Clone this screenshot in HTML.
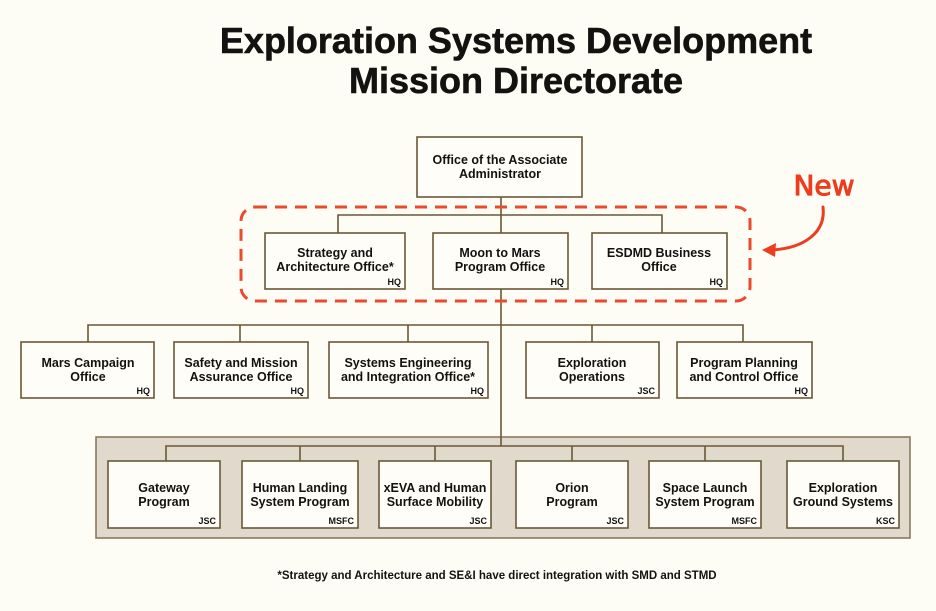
<!DOCTYPE html>
<html><head><meta charset="utf-8"><style>
html,body{margin:0;padding:0;background:#fdfcf5;}
svg{display:block;}
text{font-family:"Liberation Sans",Arial,sans-serif;font-weight:bold;fill:#141210;}
.b{fill:#fefdf8;stroke:#6b5838;stroke-width:1.6;}
.l{stroke:#6b5838;stroke-width:1.6;fill:none;}
.t{font-size:12.5px;text-anchor:middle;}
.s{font-size:9px;text-anchor:end;}
</style></head><body>
<svg width="936" height="611" viewBox="0 0 936 611">
<rect width="936" height="611" fill="#fdfcf5"/>
<text x="516" y="53" font-size="36" text-anchor="middle" stroke="#141210" stroke-width="0.6">Exploration Systems Development</text>
<text x="516" y="93" font-size="36" text-anchor="middle" stroke="#141210" stroke-width="0.6">Mission Directorate</text>

<rect x="96" y="437" width="814" height="101" fill="#e1d9cb" stroke="#8a7a5c" stroke-width="1.6"/>

<path class="l" d="M501 197V446M338 233V215H662V233M88 342V325H743V342M240 325V342M408 325V342M592 325V342M166 461V446H843V461M300 446V461M435 446V461M572 446V461M705 446V461"/>

<rect class="b" x="417" y="137" width="165" height="60"/>
<text class="t" x="500" y="164">Office of the Associate</text>
<text class="t" x="500" y="178">Administrator</text>

<rect class="b" x="265" y="233" width="140" height="56"/>
<text class="t" x="335" y="257">Strategy and</text>
<text class="t" x="335" y="271">Architecture Office*</text>
<text class="s" x="401" y="285">HQ</text>
<rect class="b" x="433" y="233" width="135" height="56"/>
<text class="t" x="500" y="257">Moon to Mars</text>
<text class="t" x="500" y="271">Program Office</text>
<text class="s" x="564" y="285">HQ</text>
<rect class="b" x="592" y="233" width="135" height="56"/>
<text class="t" x="659" y="257">ESDMD Business</text>
<text class="t" x="659" y="271">Office</text>
<text class="s" x="723" y="285">HQ</text>

<rect x="241" y="207" width="509" height="94" rx="14" fill="none" stroke="#ec4a2c" stroke-width="3" stroke-dasharray="12 8"/>
<text x="824" y="195" font-size="28" text-anchor="middle" stroke="#ec3d1f" stroke-width="1" style="font-family:'DejaVu Sans',sans-serif;font-weight:normal;fill:#ec3d1f">New</text>
<path d="M823 207C826 232 805 248 772 250" fill="none" stroke="#ec3d1f" stroke-width="3" stroke-linecap="round"/>
<path d="M762 250L776 243L775 257Z" fill="#ec3d1f"/>

<rect class="b" x="21" y="342" width="133" height="56"/>
<text class="t" x="88" y="367">Mars Campaign</text>
<text class="t" x="88" y="381">Office</text>
<text class="s" x="150" y="394">HQ</text>
<rect class="b" x="174" y="342" width="134" height="56"/>
<text class="t" x="241" y="367">Safety and Mission</text>
<text class="t" x="241" y="381">Assurance Office</text>
<text class="s" x="304" y="394">HQ</text>
<rect class="b" x="329" y="342" width="159" height="56"/>
<text class="t" x="408" y="367">Systems Engineering</text>
<text class="t" x="408" y="381">and Integration Office*</text>
<text class="s" x="484" y="394">HQ</text>
<rect class="b" x="526" y="342" width="133" height="56"/>
<text class="t" x="592" y="367">Exploration</text>
<text class="t" x="592" y="381">Operations</text>
<text class="s" x="655" y="394">JSC</text>
<rect class="b" x="677" y="342" width="135" height="56"/>
<text class="t" x="744" y="367">Program Planning</text>
<text class="t" x="744" y="381">and Control Office</text>
<text class="s" x="808" y="394">HQ</text>

<rect class="b" x="108" y="461" width="112" height="67"/>
<text class="t" x="164" y="492">Gateway</text>
<text class="t" x="164" y="506">Program</text>
<text class="s" x="216" y="524">JSC</text>
<rect class="b" x="242" y="461" width="116" height="67"/>
<text class="t" x="300" y="492">Human Landing</text>
<text class="t" x="300" y="506">System Program</text>
<text class="s" x="354" y="524">MSFC</text>
<rect class="b" x="379" y="461" width="112" height="67"/>
<text class="t" x="435" y="492">xEVA and Human</text>
<text class="t" x="435" y="506">Surface Mobility</text>
<text class="s" x="487" y="524">JSC</text>
<rect class="b" x="516" y="461" width="112" height="67"/>
<text class="t" x="572" y="492">Orion</text>
<text class="t" x="572" y="506">Program</text>
<text class="s" x="624" y="524">JSC</text>
<rect class="b" x="649" y="461" width="112" height="67"/>
<text class="t" x="705" y="492">Space Launch</text>
<text class="t" x="705" y="506">System Program</text>
<text class="s" x="757" y="524">MSFC</text>
<rect class="b" x="787" y="461" width="112" height="67"/>
<text class="t" x="843" y="492">Exploration</text>
<text class="t" x="843" y="506">Ground Systems</text>
<text class="s" x="895" y="524">KSC</text>

<text x="497" y="579" font-size="11.5" text-anchor="middle">*Strategy and Architecture and SE&amp;I have direct integration with SMD and STMD</text>
</svg>
</body></html>
